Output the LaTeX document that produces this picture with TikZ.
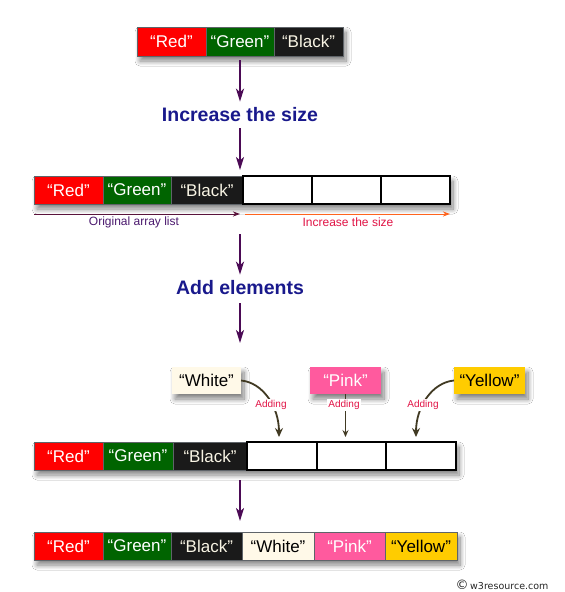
\documentclass[tikz,border=0pt]{standalone}
\usepackage{fontspec}
\setmainfont{Liberation Sans}
\newfontfamily\dejavu{DejaVu Sans}
\usetikzlibrary{arrows.meta,shadows.blur,backgrounds}
\definecolor{cred}{RGB}{255,0,0}
\definecolor{cgreen}{RGB}{0,100,0}
\definecolor{cblack}{RGB}{26,26,26}
\definecolor{cwhite}{RGB}{255,249,232}
\definecolor{cpink}{RGB}{255,90,158}
\definecolor{cyellow}{RGB}{255,204,0}
\definecolor{navy}{RGB}{25,25,140}
\definecolor{vpurple}{RGB}{75,10,85}
\definecolor{lpurple}{RGB}{75,25,110}
\definecolor{lmaroon}{RGB}{90,20,60}
\definecolor{corange}{RGB}{255,100,30}
\definecolor{crimson}{RGB}{225,20,70}
\definecolor{olive}{RGB}{65,58,35}
\definecolor{cream}{RGB}{248,244,228}
\definecolor{cellline}{RGB}{95,100,105}
\tikzset{
  cellbox/.style={minimum height=28pt, inner sep=0pt, outer sep=0pt,
    font=\fontsize{17}{19}\selectfont, draw=cellline, line width=0.8pt},
  emptybox/.style={minimum height=28pt, inner sep=0pt, outer sep=0pt,
    fill=white, draw=black, line width=1.8pt},
  shadowbox/.style={fill=white, blur shadow={shadow xshift=3pt, shadow yshift=-5pt,
    shadow blur radius=5pt, shadow blur steps=10, shadow opacity=50}},
  biglabel/.style={inner sep=0pt, font=\fontsize{19.5}{22}\selectfont\bfseries, text=navy},
  smalllabel/.style={inner sep=0pt, font=\fontsize{12}{14}\selectfont},
  addlabel/.style={inner sep=1pt, fill=white, font=\fontsize{10}{12}\selectfont, text=crimson},
  varr/.style={draw=vpurple, line width=2pt, -{Stealth[length=13pt,width=8pt,inset=3.5pt]}},
  harr/.style={line width=1pt, -{Stealth[length=7pt,width=5pt,inset=2pt]}},
  carr/.style={draw=olive, line width=1.8pt, -{Stealth[length=9pt,width=8pt,inset=3pt]}},
}
\begin{document}
\begin{tikzpicture}[x=1pt,y=-1pt]
\useasboundingbox (0,0) rectangle (565,592);

% top array
\node[cellbox, fill=cred, text=white, minimum width=69pt, minimum height=29pt] (t1) at (171.5,41.5) {“Red”};
\node[cellbox, fill=cgreen, text=white, minimum width=68pt, minimum height=29pt] (t2) at (240,41.5) {“Green”};
\node[cellbox, fill=cblack, text=cream, minimum width=69pt, minimum height=29pt] (t3) at (308.5,41.5) {“Black”};

\node[biglabel] (inc) at (240,115) {Increase the size};

% second array
\node[cellbox, fill=cred, text=white, minimum width=69pt] (a1) at (68.5,190) {“Red”};
\node[cellbox, fill=cgreen, text=white, minimum width=68pt] (a2) at (137,190) {“Green”};
\node[cellbox, fill=cblack, text=cream, minimum width=72pt] (a3) at (207,190) {“Black”};
\node[emptybox, minimum width=69pt] (a4) at (277.5,190) {};
\node[emptybox, minimum width=69pt] (a5) at (346.5,190) {};
\node[emptybox, minimum width=69pt] (a6) at (415.5,190) {};

\node[smalllabel, text=lpurple] (orig) at (134,222.5) {Original array list};
\node[smalllabel, text=crimson] (incs) at (348,222.5) {Increase the size};

\node[biglabel] (add) at (240,288) {Add elements};

% new elements
\node[cellbox, fill=cwhite, text=black, minimum width=69pt, minimum height=27pt, draw=none] (w) at (206.5,380.5) {“White”};
\node[cellbox, fill=cpink, text=white, minimum width=71pt, minimum height=27pt, draw=none] (p) at (345.5,380.5) {“Pink”};
\node[cellbox, fill=cyellow, text=black, minimum width=71pt, minimum height=27pt, draw=none] (yl) at (489.5,380.5) {“Yellow”};

% third array
\node[cellbox, fill=cred, text=white, minimum width=69pt] (b1) at (68.5,456) {“Red”};
\node[cellbox, fill=cgreen, text=white, minimum width=70pt] (b2) at (138,456) {“Green”};
\node[cellbox, fill=cblack, text=cream, minimum width=74pt] (b3) at (210,456) {“Black”};
\node[emptybox, minimum width=70pt] (b4) at (282,456) {};
\node[emptybox, minimum width=69pt] (b5) at (351.5,456) {};
\node[emptybox, minimum width=70pt] (b6) at (421,456) {};

% final array
\node[cellbox, fill=cred, text=white, minimum width=69pt] (c1) at (68.5,546) {“Red”};
\node[cellbox, fill=cgreen, text=white, minimum width=68pt] (c2) at (137,546) {“Green”};
\node[cellbox, fill=cblack, text=cream, minimum width=71pt] (c3) at (206.5,546) {“Black”};
\node[cellbox, fill=cwhite, text=black, minimum width=72pt] (c4) at (278,546) {“White”};
\node[cellbox, fill=cpink, text=white, minimum width=71pt] (c5) at (349.5,546) {“Pink”};
\node[cellbox, fill=cyellow, text=black, minimum width=72pt] (c6) at (421,546) {“Yellow”};

\node[inner sep=0pt, font=\dejavu\fontsize{9.5}{11}\selectfont, text=black!85] (copy) at (502,585) {{\fontsize{13}{13}\selectfont ©}\,w3resource.com};

% background and shadows
\begin{scope}[on background layer]
\fill[white] (0,0) rectangle (565,592);
\path[shadowbox] (t1.north west) rectangle (t3.south east);
\path[shadowbox] (a1.north west) rectangle (a6.south east);
\path[shadowbox] (w.north west) rectangle (w.south east);
\path[shadowbox] (p.north west) rectangle (p.south east);
\path[shadowbox] (yl.north west) rectangle (yl.south east);
\path[shadowbox] (b1.north west) rectangle (b6.south east);
\path[shadowbox] (c1.north west) rectangle (c6.south east);
\end{scope}

% coordinates for free ends
\coordinate (s3) at (240,234);
\coordinate (e4) at (240,343);
\coordinate (s5) at (240,480);
\coordinate (wt) at (279,437);
\coordinate (pt) at (345.5,437);
\coordinate (yt) at (416,437);

% vertical arrows
\draw[varr, shorten <=4pt, shorten >=6pt] (t2.south) -- (inc.north);
\draw[varr, shorten <=6pt, shorten >=6pt] (inc.south) -- (inc.south |- a3.north);
\draw[varr, shorten >=6pt] (s3) -- (add.north);
\draw[varr, shorten <=8pt] (add.south) -- (e4);
\draw[varr, shorten >=11pt] (s5) -- (s5 |- c3.north);

% underline arrows
\draw[harr, draw=lmaroon] ([yshift=-10pt]a1.south west) -- ([yshift=-10pt,xshift=-3pt]a3.south east);
\draw[harr, draw=corange] ([yshift=-10pt,xshift=2pt]a4.south west) -- ([yshift=-10pt]a6.south east);

% adding arrows
\draw[carr] (w.east) .. controls +(22,2) and +(0,-30) .. (wt);
\draw[draw=olive, line width=1.2pt, -{Stealth[length=7pt,width=6pt,inset=2.5pt]}] (p.south) -- (pt);
\draw[carr] (yl.west) .. controls +(-22,2) and +(0,-30) .. (yt);

\node[addlabel] (ad1) at (271,405) {Adding};
\node[addlabel] (ad2) at (344,405) {Adding};
\node[addlabel] (ad3) at (423,405) {Adding};
\end{tikzpicture}
\end{document}
